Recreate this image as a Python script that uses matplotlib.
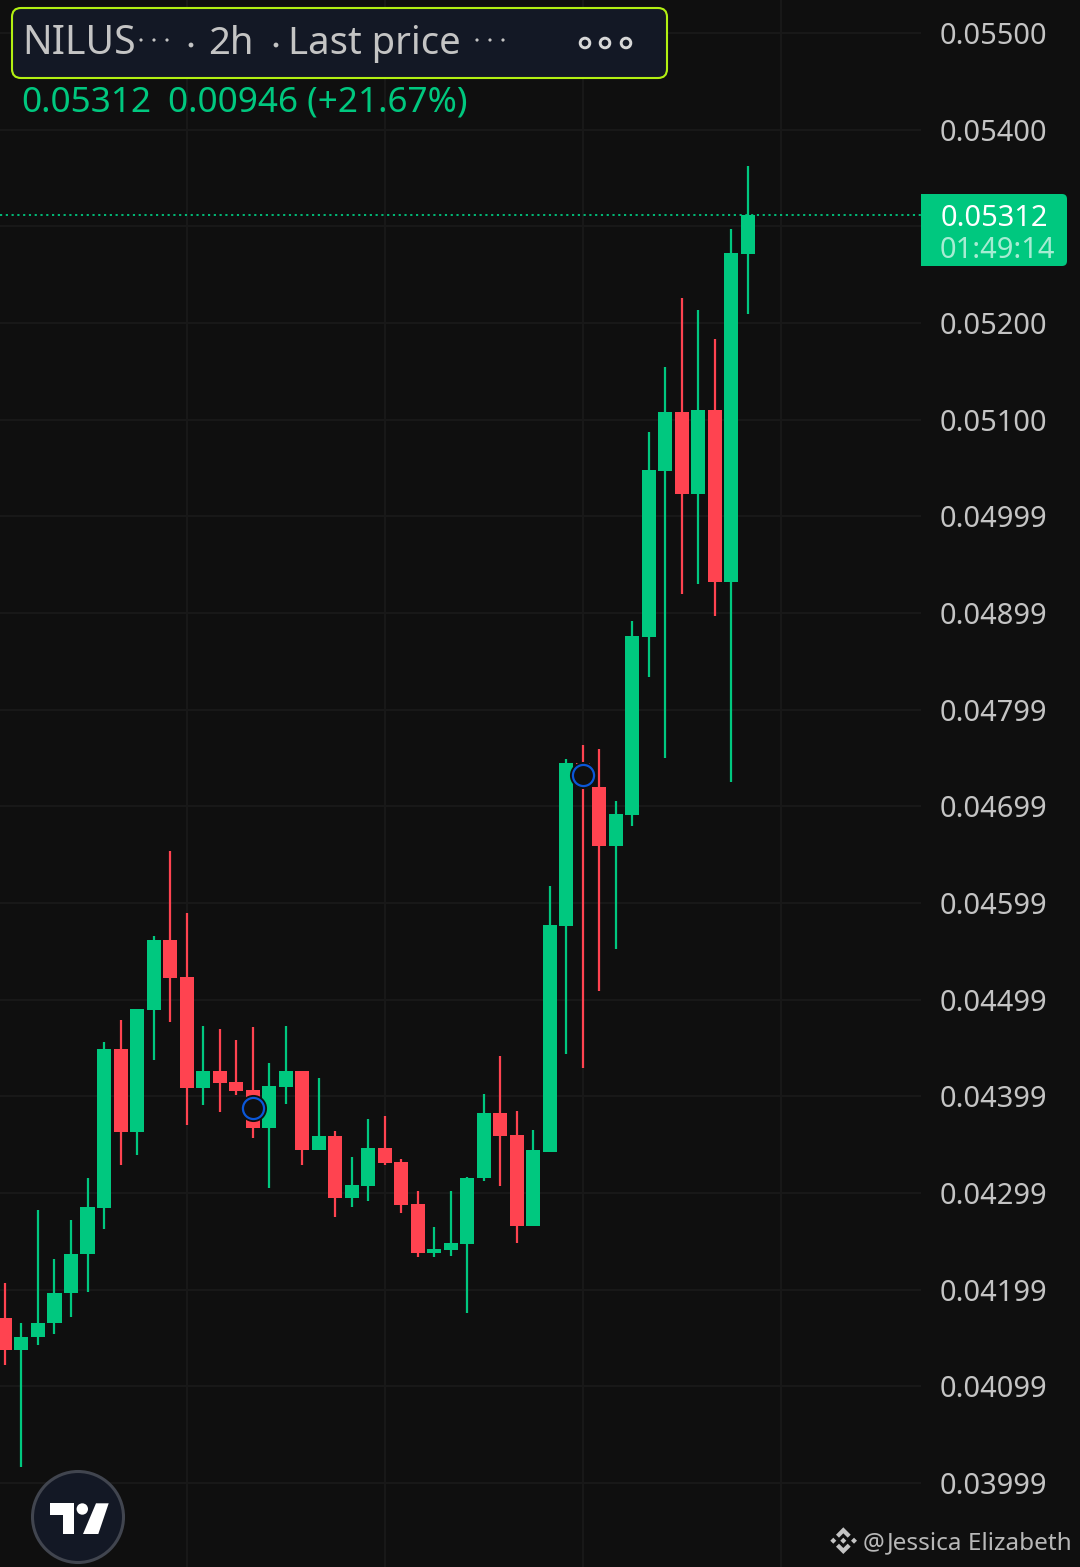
import matplotlib
matplotlib.use("Agg")
import matplotlib.pyplot as plt
from matplotlib.patches import Circle, FancyBboxPatch, Polygon, PathPatch
from matplotlib.path import Path

plt.rcParams['font.family'] = ['Noto Sans', 'DejaVu Sans']

# candles, oldest first
opens = [0.04171, 0.04138, 0.04151, 0.04165, 0.04197, 0.04237, 0.04284, 0.04449, 0.04363, 0.04489,
         0.04562, 0.04523, 0.04409, 0.04426, 0.04415, 0.04407, 0.04367, 0.04410, 0.04426, 0.04344,
         0.04359, 0.04295, 0.04307, 0.04347, 0.04332, 0.04289, 0.04238, 0.04241, 0.04247, 0.04315,
         0.04383, 0.04360, 0.04266, 0.04342, 0.04576, 0.04745, 0.04720, 0.04659, 0.04691, 0.04875,
         0.05047, 0.05108, 0.05023, 0.05110, 0.04932, 0.05271]
closes = [0.04138, 0.04151, 0.04165, 0.04197, 0.04237, 0.04285, 0.04449, 0.04363, 0.04490, 0.04562,
          0.04522, 0.04409, 0.04426, 0.04414, 0.04406, 0.04367, 0.04411, 0.04426, 0.04344, 0.04359,
          0.04295, 0.04308, 0.04347, 0.04331, 0.04288, 0.04238, 0.04242, 0.04248, 0.04316, 0.04383,
          0.04359, 0.04266, 0.04344, 0.04577, 0.04745, 0.04720, 0.04659, 0.04692, 0.04876, 0.05048,
          0.05108, 0.05023, 0.05110, 0.04932, 0.05272, 0.05312]
highs = [0.04207, 0.04165, 0.04282, 0.04232, 0.04272, 0.04315, 0.04456, 0.04479, 0.04490, 0.04566,
         0.04654, 0.04590, 0.04473, 0.04470, 0.04458, 0.04472, 0.04434, 0.04473, 0.04426, 0.04419,
         0.04364, 0.04337, 0.04377, 0.04380, 0.04335, 0.04302, 0.04265, 0.04302, 0.04317, 0.04402,
         0.04442, 0.04385, 0.04365, 0.04618, 0.04749, 0.04763, 0.04759, 0.04706, 0.04892, 0.05087,
         0.05155, 0.05226, 0.05213, 0.05183, 0.05297, 0.05362]
lows = [0.04122, 0.04017, 0.04143, 0.04154, 0.04172, 0.04198, 0.04263, 0.04329, 0.04339, 0.04438,
        0.04477, 0.04370, 0.04391, 0.04384, 0.04401, 0.04357, 0.04305, 0.04392, 0.04329, 0.04344,
        0.04275, 0.04285, 0.04292, 0.04329, 0.04279, 0.04234, 0.04234, 0.04235, 0.04176, 0.04312,
        0.04307, 0.04248, 0.04266, 0.04342, 0.04444, 0.04429, 0.04509, 0.04552, 0.04680, 0.04834,
        0.04750, 0.04920, 0.04930, 0.04897, 0.04725, 0.05209]

last_price = 0.05312
# event markers: candle index, price
event_idx = [15, 35]
event_price = [0.04388, 0.04732]

price_ticks = [0.055, 0.054, 0.053, 0.052, 0.051, 0.050, 0.049, 0.048, 0.047, 0.046, 0.045,
               0.044, 0.043, 0.042, 0.041, 0.040]
# the 0.05300 label sits behind the price tag
price_labels = ['0.05500', '0.05400', '', '0.05200', '0.05100', '0.04999', '0.04899', '0.04799',
                '0.04699', '0.04599', '0.04499', '0.04399', '0.04299', '0.04199', '0.04099', '0.03999']
day_ticks = [11, 23, 35, 47]

BG = '#0f0f0f'
GRID = '#181818'
GREEN = '#00c87f'
RED = '#ff4350'
TEXT = '#c4c4c4'

W, H = 1080, 1567
fig = plt.figure(figsize=(W / 100, H / 100), dpi=100, facecolor=BG)

# main chart, pixel width of the plot area is 921
ax = fig.add_axes([0, 0, 921 / W, 1], facecolor=BG)
ax.set_xlim(-0.30, 55.48)
ax.set_ylim(0.039131, 0.0553414)

for s in ax.spines.values():
    s.set_visible(False)

ax.set_xticks(day_ticks)
ax.set_xticklabels([])
ax.set_yticks(price_ticks)
ax.set_yticklabels(price_labels, fontsize=20.9, color=TEXT)
ax.yaxis.tick_right()
ax.tick_params(axis='both', length=0)
ax.tick_params(axis='y', pad=13.6)
ax.grid(True, color=GRID, linewidth=1.5, zorder=0)
ax.set_axisbelow(True)

xs = list(range(len(opens)))
colors = [GREEN if c >= o else RED for o, c in zip(opens, closes)]

ax.vlines(xs, lows, highs, colors=colors, linewidth=1.6, zorder=2)
bottoms = [min(o, c) for o, c in zip(opens, closes)]
heights = [abs(c - o) for o, c in zip(opens, closes)]
ax.bar(xs, heights, bottom=bottoms, width=0.85, color=colors, linewidth=0, zorder=3)

ax.axhline(last_price, color=GREEN, linewidth=1.3, linestyle=(0, (1.2, 2.0)), zorder=4)

# event markers, dark halo under a blue ring
ax.plot(event_idx, event_price, linestyle='none', marker='o', markersize=19.5,
        markerfacecolor=BG, markeredgewidth=0, color=BG, zorder=5)
ax.plot(event_idx, event_price, linestyle='none', marker='o', markersize=15.2,
        markerfacecolor=BG, markeredgecolor='#0b57d8', markeredgewidth=1.6, zorder=6)

# overlay in pixel coords for the header, price tag and logos
ov = fig.add_axes([0, 0, 1, 1], facecolor='none')
ov.set_xlim(0, W)
ov.set_ylim(H, 0)
ov.axis('off')

ov.add_patch(FancyBboxPatch((12, 8), 655, 70, boxstyle='round,pad=0,rounding_size=9',
                            facecolor='#131825', edgecolor='#b2f012', linewidth=1.5))
ov.text(22, 44, 'NILUS', fontsize=28.2, color=TEXT, va='center', ha='left')
ov.text(208, 44, '2h', fontsize=27.5, color=TEXT, va='center', ha='left')
ov.text(288, 44, 'Last price', fontsize=27.5, color=TEXT, va='center', ha='left')
# ellipsis and separator dots
for cx in (141, 154, 167, 477, 490, 503):
    ov.add_patch(Circle((cx, 40), 1.6, facecolor=TEXT, edgecolor='none'))
for cx in (191, 276):
    ov.add_patch(Circle((cx, 45), 2.4, facecolor=TEXT, edgecolor='none'))
for cx in (585, 605, 626):
    ov.add_patch(Circle((cx, 43), 4.8, facecolor='none', edgecolor='#d8d8d8', linewidth=2.1))

ov.text(21, 102.5, '0.05312', fontsize=25.3, color=GREEN, va='center', ha='left')
ov.text(168, 102.5, '0.00946 (+21.67%)', fontsize=25.3, color=GREEN, va='center', ha='left')

# price tag, only the right corners are round
r = 5
x0, x1, y0, y1 = 921, 1067, 194, 266
tag = Path([(x0, y0), (x1 - r, y0), (x1, y0), (x1, y0 + r), (x1, y1 - r), (x1, y1), (x1 - r, y1), (x0, y1), (x0, y0)],
           [Path.MOVETO, Path.LINETO, Path.CURVE3, Path.CURVE3, Path.LINETO, Path.CURVE3, Path.CURVE3, Path.LINETO, Path.CLOSEPOLY])
ov.add_patch(PathPatch(tag, facecolor=GREEN, edgecolor='none'))
ov.text(994, 218, '0.05312', fontsize=20.9, color='white', va='center', ha='center')
ov.text(940, 250, '01:49:14', fontsize=20.9, color='#a6ecd2', va='center', ha='left')

# tradingview badge
ov.add_patch(Circle((78, 1517), 45.5, facecolor='#131825', edgecolor='#41454f', linewidth=2.2))
ov.add_patch(Polygon([(50, 1503.3), (74, 1503.3), (74, 1534), (63.3, 1534), (63.3, 1514.7), (50, 1514.7)],
                     facecolor='white', edgecolor='none'))
ov.add_patch(Circle((82.3, 1509), 5.7, facecolor='white', edgecolor='none'))
ov.add_patch(Polygon([(96, 1503.3), (108.7, 1503.3), (98.3, 1534), (83, 1534)],
                     facecolor='white', edgecolor='none'))

# binance mark and credit
mark = '#c4c4c4'
ov.add_patch(Polygon([(836, 1534.7), (843.3, 1527.3), (850.7, 1534.7), (847.7, 1537.7), (843.3, 1533.3), (839, 1537.7)],
                     facecolor=mark, edgecolor='none'))
ov.add_patch(Polygon([(836, 1546.7), (843.3, 1554), (850.7, 1546.7), (847.7, 1543.7), (843.3, 1548), (839, 1543.7)],
                     facecolor=mark, edgecolor='none'))
for cx in (833.3, 843.3, 854):
    ov.add_patch(Polygon([(cx - 3, 1540.7), (cx, 1537.7), (cx + 3, 1540.7), (cx, 1543.7)],
                         facecolor=mark, edgecolor='none'))
ov.text(863, 1543, '@', fontsize=17.5, color='#b8b8b8', va='center', ha='left')
ov.text(887, 1543, 'Jessica Elizabeth', fontsize=17.5, color='#b8b8b8', va='center', ha='left')

fig.savefig('out.png', dpi=100, facecolor=BG)
